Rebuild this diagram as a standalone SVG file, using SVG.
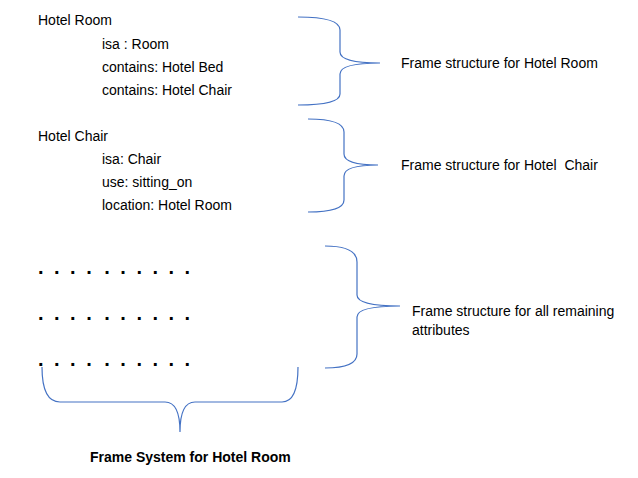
<svg xmlns="http://www.w3.org/2000/svg" width="638" height="478" viewBox="0 0 638 478">
<style>
text{font-family:"Liberation Sans",Arial,sans-serif;font-size:14px;fill:#000}
.d{font-size:20px;font-weight:bold;letter-spacing:10.5px;word-spacing:-14px}
.b{fill:none;stroke:#4472c4;stroke-width:1.2}
</style>
<rect width="638" height="478" fill="#fff"/>
<g id="frame-hotel-room">
<text x="38" y="25">Hotel Room</text>
<text x="102" y="49">isa : Room</text>
<text x="102" y="72">contains: Hotel Bed</text>
<text x="102" y="95">contains: Hotel Chair</text>
</g>
<g id="frame-hotel-chair">
<text x="38" y="141">Hotel Chair</text>
<text x="102" y="164">isa: Chair</text>
<text x="102" y="187">use: sitting_on</text>
<text x="102" y="210">location: Hotel Room</text>
</g>
<g id="remaining">
<text class="d" x="38" y="274">.... ......</text>
<text class="d" x="38" y="320">.... ......</text>
<text class="d" x="38" y="366">.... ......</text>
</g>
<g id="connectors">
<path class="b" d="M298,17 Q340,17 340,30 L340,52 Q340,63 380,63 Q340,63 340,74 L340,94 Q340,105 298,105"/>
<path class="b" d="M308,119 Q344,119 344,132 L344,154 Q344,165 378,165 Q344,165 344,176 L344,200 Q344,212 308,212"/>
<path class="b" d="M325,246 Q357,246 357,262 L357,295 Q357,306 400,306 Q357,306 357,317 L357,354 Q357,368 325,368"/>
<path class="b" d="M42,367 Q42,402 60,402 L165,402 Q180,402 180,432 Q180,402 195,402 L282,402 Q298,402 298,367"/>
</g>
<g id="labels">
<text x="401" y="68">Frame structure for Hotel Room</text>
<text x="401" y="170">Frame structure for Hotel&#160; Chair</text>
<text x="412" y="316">Frame structure for all remaining</text>
<text x="412" y="335">attributes</text>
<text x="90" y="462" font-weight="bold">Frame System for Hotel Room</text>
</g>
</svg>
